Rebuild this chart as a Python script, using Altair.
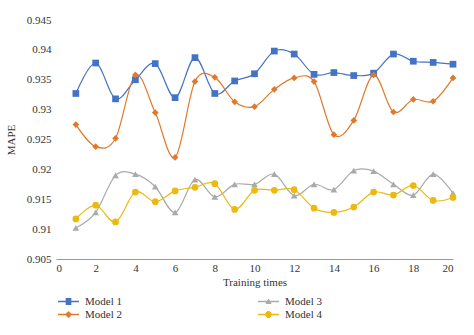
import math
import altair as alt
import pandas as pd

times = list(range(1, 21))
model1 = [0.9327, 0.9378, 0.9318, 0.9350, 0.9377, 0.9320, 0.9387, 0.9327, 0.9348, 0.9360,
          0.9398, 0.9393, 0.9359, 0.9362, 0.9357, 0.9361, 0.9393, 0.9381, 0.9379, 0.9376]
model2 = [0.9275, 0.9238, 0.9252, 0.9358, 0.9295, 0.9220, 0.9347, 0.9354, 0.9313, 0.9305,
          0.9334, 0.9353, 0.9347, 0.9258, 0.9282, 0.9358, 0.9296, 0.9317, 0.9314, 0.9353]
model3 = [0.9102, 0.9128, 0.9190, 0.9192, 0.9171, 0.9128, 0.9183, 0.9154, 0.9175, 0.9175,
          0.9192, 0.9156, 0.9175, 0.9166, 0.9198, 0.9197, 0.9175, 0.9157, 0.9192, 0.9160]
model4 = [0.9117, 0.9140, 0.9112, 0.9162, 0.9146, 0.9164, 0.9170, 0.9176, 0.9133, 0.9165,
          0.9165, 0.9166, 0.9135, 0.9128, 0.9137, 0.9162, 0.9157, 0.9173, 0.9148, 0.9153]

names = ["Model 1", "Model 2", "Model 3", "Model 4"]
colors = ["#4472C4", "#DF7A2C", "#AAAAAA", "#EBB90F"]
shapes = ["square", "diamond", "triangle-up", "circle"]
sizes = [45, 45, 45, 45]

rows = []
for name, vals in zip(names, [model1, model2, model3, model4]):
    for t, v in zip(times, vals):
        rows.append({"Training times": t, "MAPE": v, "Model": name})
df = pd.DataFrame(rows)

FONT = "Liberation Serif"

x_enc = alt.X("Training times:Q",
              scale=alt.Scale(domain=[0, 20], nice=False),
              axis=alt.Axis(values=list(range(0, 21, 2)), ticks=False, grid=False,
                            domainColor="#999999", domainWidth=1.2,
                            labelPadding=3, titlePadding=3))
y_enc = alt.Y("MAPE:Q",
              scale=alt.Scale(domain=[0.905, 0.945], nice=False, zero=False),
              axis=alt.Axis(values=[0.905, 0.91, 0.915, 0.92, 0.925, 0.93, 0.935, 0.94, 0.945],
                            format="~g", ticks=False, grid=False, domain=False,
                            labelPadding=5, titlePadding=10))
color_enc = alt.Color("Model:N", scale=alt.Scale(domain=names, range=colors), legend=None)

lines = alt.Chart(df).mark_line(interpolate="cardinal", strokeWidth=1.2).encode(
    x=x_enc, y=y_enc, color=color_enc, detail="Model:N")

point_layers = []
for name, shp, sz in zip(names, shapes, sizes):
    point_layers.append(
        alt.Chart(df).transform_filter(alt.datum.Model == name).mark_point(
            filled=True, size=sz, opacity=1, shape=shp).encode(
            x=x_enc, y=y_enc, color=color_enc))


# legend symbol glyphs: a horizontal line plus a marker drawn from stroked rows
def glyph(halfwidth, y0, y1, step=0.09):
    parts = ["M-1,0H1"]
    y = y0
    while y <= y1 + 1e-9:
        w = halfwidth(y)
        if w > 0.02:
            parts.append(f"M{-w:.3f},{y:.3f}H{w:.3f}")
        y += step
    return "".join(parts)


leg_paths = {
    "Model 1": glyph(lambda y: 0.27, -0.27, 0.27),
    "Model 2": glyph(lambda y: 0.32 - abs(y), -0.3, 0.3),
    "Model 3": glyph(lambda y: 0.3 * (y + 0.3) / 0.54, -0.27, 0.24),
    "Model 4": glyph(lambda y: math.sqrt(max(0.0, 0.3 ** 2 - y ** 2)), -0.27, 0.27),
}
# legend placement (column, row) in the two-column key below the plot
leg_pos = {"Model 1": (1, 270), "Model 2": (1, 283), "Model 3": (201, 270), "Model 4": (201, 283)}

legend_layers = []
for name, col in zip(names, colors):
    lx, ly = leg_pos[name]
    legend_layers.append(
        alt.Chart(df).transform_filter("false").mark_point(
            filled=False, color=col, stroke=col, strokeWidth=1.3, opacity=1).encode(
            x=x_enc, y=y_enc,
            shape=alt.Shape("Model:N",
                            scale=alt.Scale(domain=[name], range=[leg_paths[name]]),
                            legend=alt.Legend(title=None, orient="none", legendX=lx, legendY=ly,
                                              symbolSize=441, labelOffset=5,
                                              symbolStrokeColor=col,
                                              symbolStrokeWidth=1.3))))

chart = alt.layer(lines, *point_layers, *legend_layers).resolve_scale(
    shape="independent").properties(
    width=397, height=239,
    autosize=alt.AutoSizeParams(type="none"),
    padding={"left": 56, "top": 20, "right": 21, "bottom": 76},
).configure_view(stroke=None).configure_axis(
    labelFont=FONT, titleFont=FONT, labelFontSize=11, titleFontSize=11,
    labelColor="#333333", titleColor="#333333", titleFontWeight="normal"
).configure_legend(labelFont=FONT, labelFontSize=11, labelColor="#333333")

chart.save("out.html", embed_options={"renderer": "svg", "actions": False})
